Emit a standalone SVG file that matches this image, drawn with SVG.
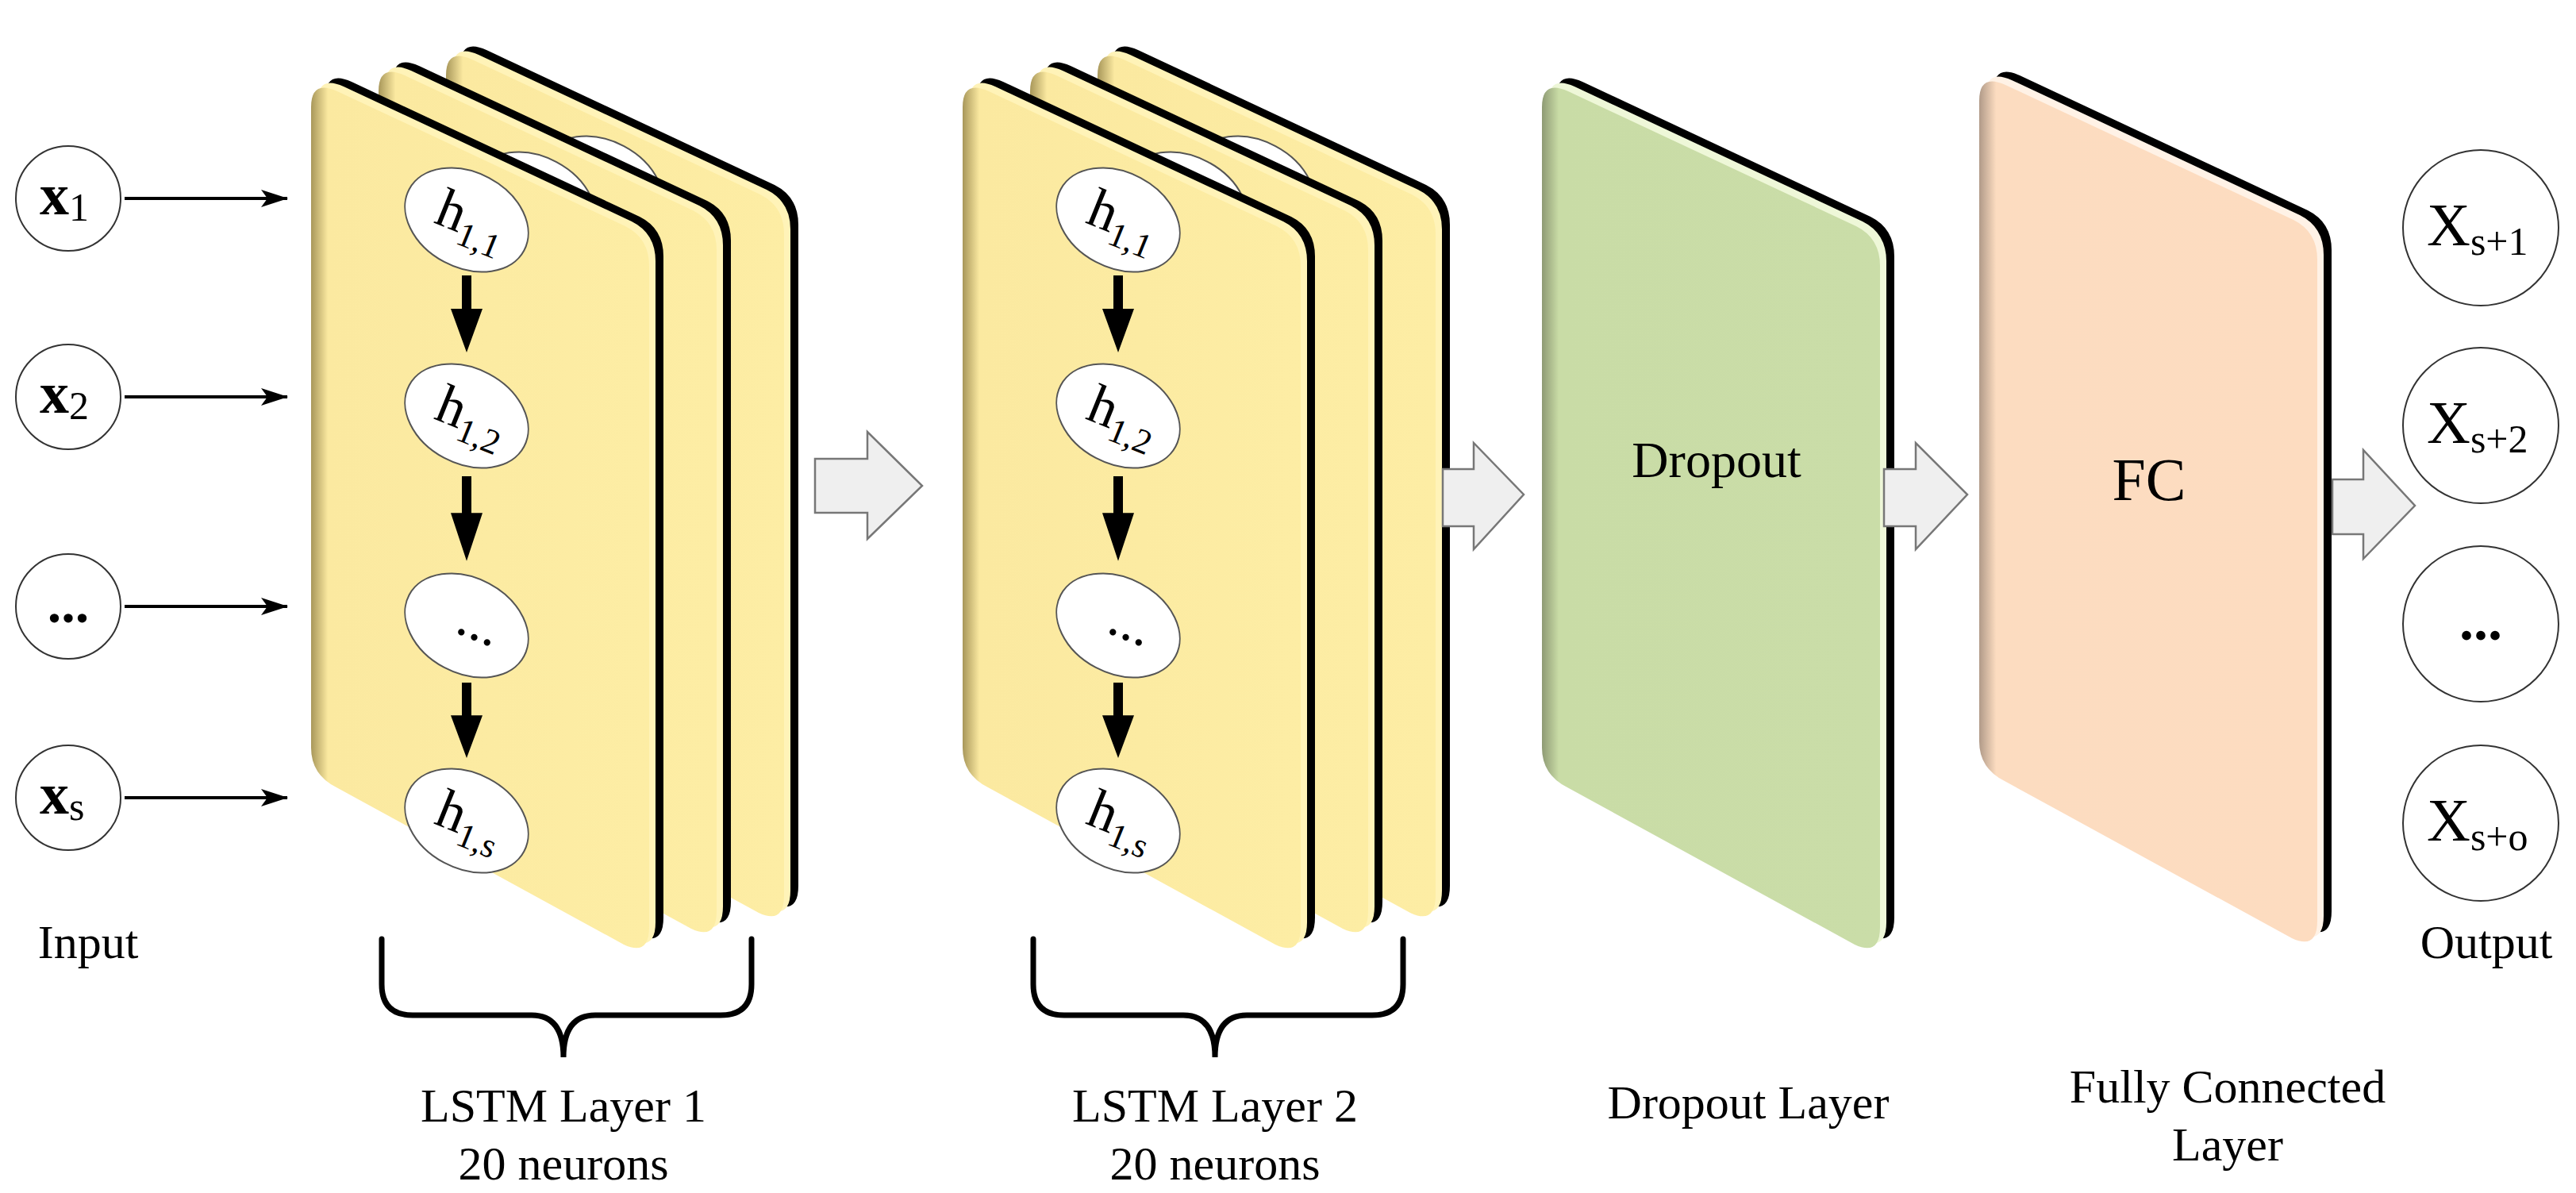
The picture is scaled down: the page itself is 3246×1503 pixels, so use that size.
<svg xmlns="http://www.w3.org/2000/svg" width="3246" height="1503" viewBox="0 0 3246 1503">
<style>
text{font-family:"Liberation Serif","DejaVu Serif",serif;fill:#000}
.lbl{font-size:60px;text-anchor:middle}
.circ{fill:#fff;stroke:#333;stroke-width:2}
.ell{fill:#fff;stroke:#555;stroke-width:2}
.big{fill:#efefef;stroke:#777;stroke-width:2.5}
.inl{stroke:#000;stroke-width:4;fill:none}
.brace{stroke:#000;stroke-width:7;fill:none;stroke-linecap:round}
.ht{font-size:70px}
</style>
<defs>
<path id="pf" d="M392,135 Q392,100 425,115 L788,285 Q818,300 818,335 L818,1168 Q818,1205 786,1190 L424,992 Q392,976 392,942 Z"/>
<linearGradient id="gy" x1="0" x2="1" y1="0" y2="0"><stop offset="0" stop-color="#a8975a"/><stop offset="0.05" stop-color="#fbe9a0"/><stop offset="1" stop-color="#fdeda4"/></linearGradient>
<linearGradient id="gg" x1="0" x2="1" y1="0" y2="0"><stop offset="0" stop-color="#8e9a74"/><stop offset="0.05" stop-color="#c9dca6"/><stop offset="1" stop-color="#cadda8"/></linearGradient>
<linearGradient id="gp" x1="0" x2="1" y1="0" y2="0"><stop offset="0" stop-color="#b09a88"/><stop offset="0.05" stop-color="#fcdcc0"/><stop offset="1" stop-color="#fddcc0"/></linearGradient>
<marker id="ah" markerWidth="34" markerHeight="22" refX="33" refY="11" orient="auto" markerUnits="userSpaceOnUse" viewBox="0 0 34 22"><path d="M0,0 L34,11 L0,22 L8,11 Z"/></marker>
<g id="panelY">
<use href="#pf" transform="translate(18,-12)" fill="#000"/>
<use href="#pf" transform="translate(8,-6)" fill="#fff3b8"/>
<use href="#pf" fill="url(#gy)"/>
</g>
<path id="darr" d="M-6,0 H6 V42 H20 L0,97 L-20,42 H-6 Z"/>
</defs>

<g id="inputs">
<g id="in1"><circle class="circ" cx="86" cy="250" r="66"/><text x="50" y="270" font-size="74" font-weight="bold">x<tspan font-size="50" font-weight="normal" dy="8">1</tspan></text></g>
<g id="in2"><circle class="circ" cx="86" cy="500" r="66"/><text x="50" y="520" font-size="74" font-weight="bold">x<tspan font-size="50" font-weight="normal" dy="8">2</tspan></text></g>
<g id="in3"><circle class="circ" cx="86" cy="764" r="66"/><text x="86" y="784" font-size="70" font-weight="bold" text-anchor="middle">...</text></g>
<g id="ins"><circle class="circ" cx="86" cy="1005" r="66"/><text x="50" y="1025" font-size="74" font-weight="bold">x<tspan font-size="50" font-weight="normal" dy="8">s</tspan></text></g>
<text class="lbl" x="111" y="1207">Input</text>
</g>

<g id="lstm1">
<use href="#panelY" transform="translate(170,-40)"/>
<ellipse class="ell" cx="758" cy="237" rx="82" ry="60" transform="rotate(28 758 237)"/>
<use href="#panelY" transform="translate(85,-20)"/>
<ellipse class="ell" cx="673" cy="257" rx="82" ry="60" transform="rotate(28 673 257)"/>
<use href="#panelY"/>
<g id="cells1">
<ellipse class="ell" cx="588" cy="277" rx="82" ry="60" transform="rotate(28 588 277)"/>
<ellipse class="ell" cx="588" cy="524" rx="82" ry="60" transform="rotate(28 588 524)"/>
<ellipse class="ell" cx="588" cy="788" rx="82" ry="60" transform="rotate(28 588 788)"/>
<ellipse class="ell" cx="588" cy="1034" rx="82" ry="60" transform="rotate(28 588 1034)"/>
<text class="ht" transform="translate(545,280) rotate(22)">h<tspan font-size="44" dy="14">1,1</tspan></text>
<text class="ht" transform="translate(545,527) rotate(22)">h<tspan font-size="44" dy="14">1,2</tspan></text>
<text class="ht" transform="translate(572,796) rotate(22)" font-size="54">...</text>
<text class="ht" transform="translate(545,1037) rotate(22)">h<tspan font-size="44" dy="14">1,s</tspan></text>
<use href="#darr" transform="translate(588,347)"/>
<use href="#darr" transform="translate(588,600) scale(1,1.1)"/>
<use href="#darr" transform="translate(588,860) scale(1,0.98)"/>
</g>
<path class="brace" d="M481,1183 V1240 Q481,1279 520,1279 H670 Q710,1279 710,1332 Q710,1279 750,1279 H908 Q947,1279 947,1240 V1183"/>
<text class="lbl" x="710" y="1413">LSTM Layer 1</text>
<text class="lbl" x="710" y="1486">20 neurons</text>
</g>

<g id="lstm2" transform="translate(821,0)">
<use href="#panelY" transform="translate(170,-40)"/>
<ellipse class="ell" cx="758" cy="237" rx="82" ry="60" transform="rotate(28 758 237)"/>
<use href="#panelY" transform="translate(85,-20)"/>
<ellipse class="ell" cx="673" cy="257" rx="82" ry="60" transform="rotate(28 673 257)"/>
<use href="#panelY"/>
<ellipse class="ell" cx="588" cy="277" rx="82" ry="60" transform="rotate(28 588 277)"/>
<ellipse class="ell" cx="588" cy="524" rx="82" ry="60" transform="rotate(28 588 524)"/>
<ellipse class="ell" cx="588" cy="788" rx="82" ry="60" transform="rotate(28 588 788)"/>
<ellipse class="ell" cx="588" cy="1034" rx="82" ry="60" transform="rotate(28 588 1034)"/>
<text class="ht" transform="translate(545,280) rotate(22)">h<tspan font-size="44" dy="14">1,1</tspan></text>
<text class="ht" transform="translate(545,527) rotate(22)">h<tspan font-size="44" dy="14">1,2</tspan></text>
<text class="ht" transform="translate(572,796) rotate(22)" font-size="54">...</text>
<text class="ht" transform="translate(545,1037) rotate(22)">h<tspan font-size="44" dy="14">1,s</tspan></text>
<use href="#darr" transform="translate(588,347)"/>
<use href="#darr" transform="translate(588,600) scale(1,1.1)"/>
<use href="#darr" transform="translate(588,860) scale(1,0.98)"/>
<path class="brace" d="M481,1183 V1240 Q481,1279 520,1279 H670 Q710,1279 710,1332 Q710,1279 750,1279 H908 Q947,1279 947,1240 V1183"/>
<text class="lbl" x="710" y="1413">LSTM Layer 2</text>
<text class="lbl" x="710" y="1486">20 neurons</text>
</g>

<g id="dropout">
<g transform="translate(1551,0)">
<use href="#pf" transform="translate(18,-12)" fill="#000"/>
<use href="#pf" transform="translate(8,-6)" fill="#eef7d8"/>
<use href="#pf" fill="url(#gg)"/>
</g>
<text x="2163" y="601" font-size="64" text-anchor="middle">Dropout</text>
<text class="lbl" x="2203" y="1409">Dropout Layer</text>
</g>

<g id="fc">
<g transform="translate(2102,-8)">
<use href="#pf" transform="translate(18,-12)" fill="#000"/>
<use href="#pf" transform="translate(8,-6)" fill="#fff2e6"/>
<use href="#pf" fill="url(#gp)"/>
</g>
<text x="2708" y="630" font-size="76" text-anchor="middle">FC</text>
<text class="lbl" x="2807" y="1389">Fully Connected</text>
<text class="lbl" x="2807" y="1462">Layer</text>
</g>

<g id="outputs">
<g id="o1"><circle class="circ" cx="3126" cy="287" r="98"/><text x="3058" y="309" font-size="76">X<tspan font-size="50" dy="12">s+1</tspan></text></g>
<g id="o2"><circle class="circ" cx="3126" cy="536" r="98"/><text x="3058" y="558" font-size="76">X<tspan font-size="50" dy="12">s+2</tspan></text></g>
<g id="o3"><circle class="circ" cx="3126" cy="786" r="98"/><text x="3126" y="806" font-size="72" font-weight="bold" text-anchor="middle">...</text></g>
<g id="o4"><circle class="circ" cx="3126" cy="1037" r="98"/><text x="3058" y="1059" font-size="76">X<tspan font-size="50" dy="12">s+o</tspan></text></g>
<text class="lbl" x="3133" y="1207">Output</text>
</g>

<g id="connectors">
<line class="inl" x1="157" y1="250" x2="362" y2="250" marker-end="url(#ah)"/>
<line class="inl" x1="157" y1="500" x2="362" y2="500" marker-end="url(#ah)"/>
<line class="inl" x1="157" y1="764" x2="362" y2="764" marker-end="url(#ah)"/>
<line class="inl" x1="157" y1="1005" x2="362" y2="1005" marker-end="url(#ah)"/>
<path class="big" d="M1027,578 H1093 V544 L1162,612 L1093,679 V646 H1027 Z"/>
<path class="big" d="M1818,591 H1857 V558 L1920,623 L1857,692 V663 H1818 Z"/>
<path class="big" d="M2374,591 H2414 V558 L2479,623 L2414,692 V663 H2374 Z"/>
<path class="big" d="M2939,604 H2978 V567 L3043,637 L2978,704 V673 H2939 Z"/>
</g>
</svg>
